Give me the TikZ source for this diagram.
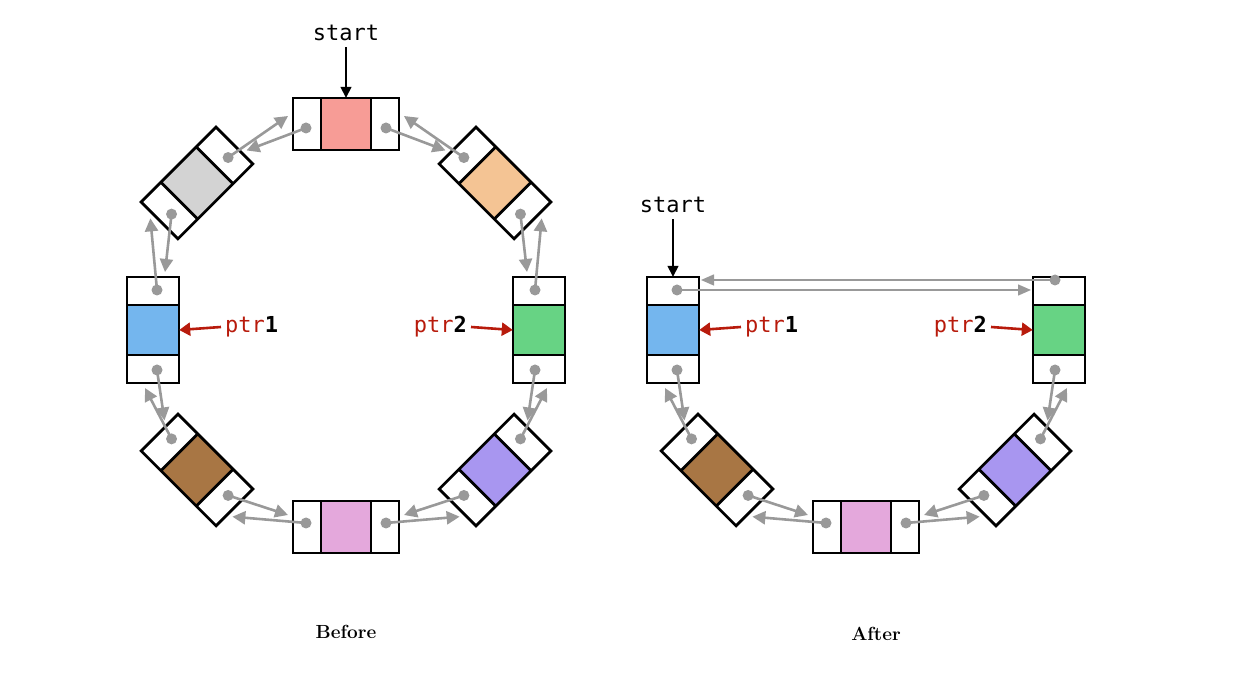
\documentclass[tikz,border=0pt]{standalone}
\usepackage{fontspec}
\newfontfamily\mono{DejaVu Sans Mono}
\usetikzlibrary{arrows.meta,calc}
\definecolor{cRed}{HTML}{F79C96}\definecolor{cPeach}{HTML}{F4C494}
\definecolor{cGreen}{HTML}{67D384}\definecolor{cPurple}{HTML}{A896F0}
\definecolor{cPink}{HTML}{E4A8DC}\definecolor{cBrown}{HTML}{A87644}
\definecolor{cBlue}{HTML}{74B6EE}\definecolor{cGray}{HTML}{D3D3D3}
\definecolor{lnk}{HTML}{999999}\definecolor{ptrred}{HTML}{B81B0C}
\tikzset{x=1pt,y=1pt,
 boxb/.style={line width=2.8pt,black},
 link/.style={lnk,line width=2.6pt,-{Triangle[length=13pt,width=13pt]}},
 thinlink/.style={lnk,line width=1.4pt,-{Triangle[length=13pt,width=11pt]}},
 ptrarrow/.style={ptrred,line width=2.6pt,-{Triangle[length=11pt,width=13pt]}},
 startarrow/.style={black,line width=1.6pt,-{Triangle[length=11pt,width=11pt]}},
 lbl/.style={font=\mono\fontsize{22}{24}\selectfont,inner sep=0pt},
 captxt/.style={font=\bfseries\fontsize{19}{22}\selectfont,inner sep=0pt}}
\newcommand\lnode[5]{%
 \begin{scope}[shift={(#2,#3)},rotate=#4]
  \node[minimum width=106pt,minimum height=52pt,inner sep=0pt,rotate=#4] (#1) at (0,0) {};
  \fill[#5] (-25,-26) rectangle (25,26);
  \draw[boxb] (-53,-26) rectangle (53,26);
  \draw[boxb] (-25,-26)--(-25,26) (25,-26)--(25,26);
  \coordinate (#1-dl) at (-40,-4); \coordinate (#1-dr) at (40,-4);
  \coordinate (#1-tli) at (-58,-12); \coordinate (#1-tlo) at (-58,8);
  \coordinate (#1-tri) at (58,-12); \coordinate (#1-tro) at (58,8);
  \coordinate (#1-inL) at (-40,-28); \coordinate (#1-inR) at (40,-28);
 \end{scope}}
\newcommand\pairR[2]{% right-half pair
 \draw[link] (#1-dr) -- (#2-tli); \draw[link] (#2-dl) -- (#1-tro);
 \fill[lnk] (#1-dr) circle (5.5); \fill[lnk] (#2-dl) circle (5.5);}
\newcommand\pairL[2]{% left-half pair
 \draw[link] (#1-dr) -- (#2-tlo); \draw[link] (#2-dl) -- (#1-tri);
 \fill[lnk] (#1-dr) circle (5.5); \fill[lnk] (#2-dl) circle (5.5);}
\begin{document}
\begin{tikzpicture}
\useasboundingbox (0,0) rectangle (1241,677);
% Before
\lnode{T}{346}{553}{0}{cRed}
\lnode{UR}{495}{494}{-45}{cPeach}
\lnode{R}{539}{347}{-90}{cGreen}
\lnode{LR}{495}{207}{-135}{cPurple}
\lnode{B}{346}{150}{180}{cPink}
\lnode{LL}{197}{207}{135}{cBrown}
\lnode{L}{153}{347}{90}{cBlue}
\lnode{UL}{197}{494}{45}{cGray}
\pairR{T}{UR}\pairR{UR}{R}\pairR{R}{LR}\pairR{LR}{B}
\pairL{B}{LL}\pairL{LL}{L}\pairL{L}{UL}\pairL{UL}{T}
\node[lbl] (st1) at (346,644) {start};
\draw[startarrow] (st1.south) ++(0,-6) coordinate (st1a) -- (T.north);
\node[lbl,anchor=west] (p1) at (225,350) {\textcolor{ptrred}{ptr}\textbf{1}};
\draw[ptrarrow] (p1.west) ++(-4,0) coordinate (p1a) -- (L.south);
\node[lbl,anchor=east] (p2) at (467,350) {\textcolor{ptrred}{ptr}\textbf{2}};
\draw[ptrarrow] (p2.east) ++(4,0) coordinate (p2a) -- (R.south);
\node[captxt] (cb) at (346,45) {Before};
% After
\lnode{R2}{1059}{347}{-90}{cGreen}
\lnode{LR2}{1015}{207}{-135}{cPurple}
\lnode{B2}{866}{150}{180}{cPink}
\lnode{LL2}{717}{207}{135}{cBrown}
\lnode{L2}{673}{347}{90}{cBlue}
\pairR{R2}{LR2}\pairR{LR2}{B2}
\pairL{B2}{LL2}\pairL{LL2}{L2}
\coordinate (rd) at ($(R2-dl)+(0,10)$);
\draw[thinlink] (L2-dr) -- (L2-dr -| R2-inL);
\draw[thinlink] (rd) -- (rd -| L2-inR);
\fill[lnk] (L2-dr) circle (5.5); \fill[lnk] (rd) circle (5.5);
\node[lbl] (st2) at (673,472) {start};
\draw[startarrow] (st2.south) ++(0,-6) coordinate (st2a) -- (L2.east);
\node[lbl,anchor=west] (q1) at (745,350) {\textcolor{ptrred}{ptr}\textbf{1}};
\draw[ptrarrow] (q1.west) ++(-4,0) coordinate (q1a) -- (L2.south);
\node[lbl,anchor=east] (q2) at (987,350) {\textcolor{ptrred}{ptr}\textbf{2}};
\draw[ptrarrow] (q2.east) ++(4,0) coordinate (q2a) -- (R2.south);
\node[captxt] (ca) at (876,43) {After};
\end{tikzpicture}
\end{document}
